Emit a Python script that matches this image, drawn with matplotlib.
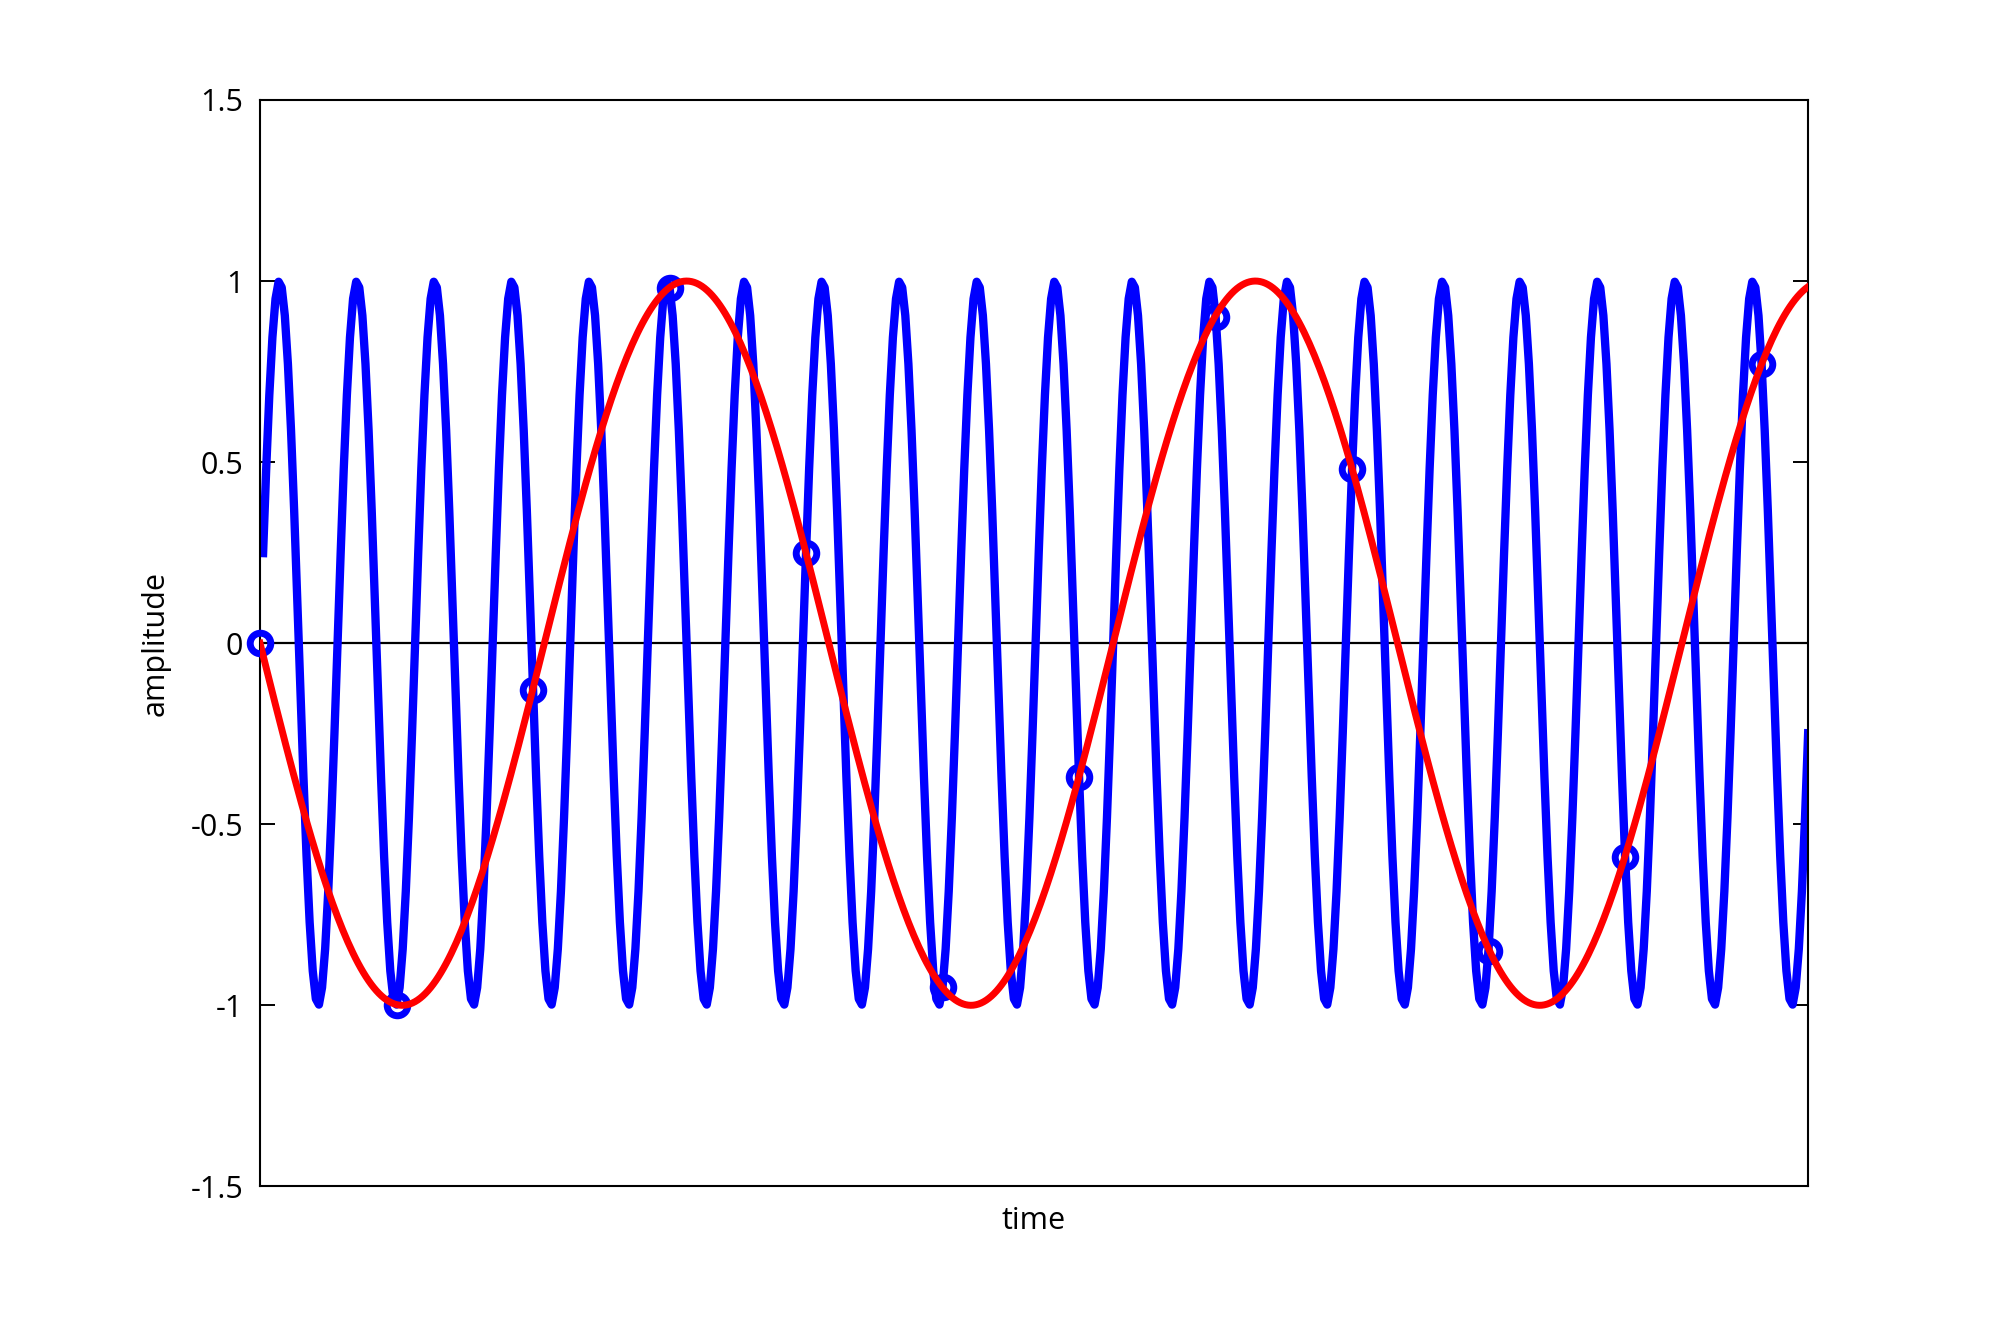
import matplotlib
matplotlib.use("Agg")
import matplotlib.pyplot as plt
import numpy as np

sample_n = [0, 1, 2, 3, 4, 5, 6, 7, 8, 9, 10, 11]
sample_vals = [0.0, -1.0, -0.13, 0.98, 0.25, -0.95, -0.37, 0.90, 0.48, -0.85, -0.59, 0.77]

# blue tone ~1.76 cycles per sample, its alias ~0.24 cycles per sample
signal_freq = 1.76
alias_freq = 0.24
t_end = 11.34          # right edge of the plot, in samples
blue_step = 1 / 44     # blue line is a fairly coarse polyline starting one step after 0

yticks = [-1.5, -1, -0.5, 0, 0.5, 1, 1.5]
ytick_labels = ['-1.5', '-1', '-0.5', '0', '0.5', '1', '1.5']

plt.rcParams['font.family'] = ['Open Sans', 'DejaVu Sans']

t_blue = np.arange(1, int(t_end / blue_step) + 2) * blue_step
t_red = np.linspace(0, t_end, 600)
blue = np.sin(2 * np.pi * signal_freq * t_blue)
red = -np.sin(2 * np.pi * alias_freq * t_red)

fig = plt.figure(figsize=(10, 6.665), dpi=200)
ax = fig.add_axes([0.13, 0.11, 0.774, 0.815])

ax.axhline(0, color='black', lw=0.8, zorder=1)
ax.plot(t_blue, blue, color=(0, 0, 1), lw=3.0, zorder=2)
ax.plot(sample_n, sample_vals, 'o', ms=7.4, mew=2.5, mfc='none', mec=(0, 0, 1),
        zorder=3, clip_on=False)
ax.plot(t_red, red, color=(1, 0, 0), lw=2.5, zorder=4)

ax.set_xlim(0, t_end)
ax.set_ylim(-1.5, 1.5)
ax.set_xticks([])
ax.set_yticks(yticks)
ax.set_yticklabels(ytick_labels)
ax.tick_params(axis='y', direction='in', length=5.4, width=0.7, pad=6,
               labelsize=11, left=True, right=True)
for s in ax.spines.values():
    s.set_linewidth(0.75)

ax.set_xlabel('time', fontsize=11)
ax.set_ylabel('amplitude', fontsize=11)
ax.xaxis.set_label_coords(0.5, -0.018)
ax.yaxis.set_label_coords(-0.058, 0.5)

fig.savefig('out.png', dpi=200, facecolor='white')
